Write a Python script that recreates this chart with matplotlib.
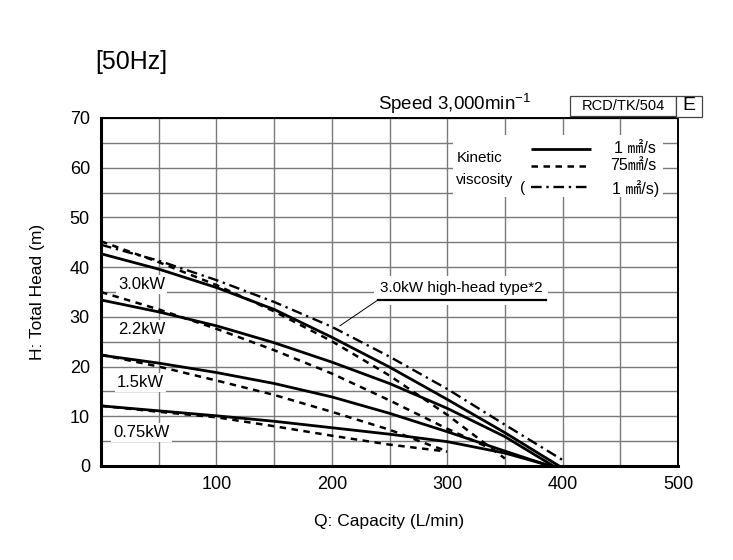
import matplotlib
matplotlib.use("Agg")
import matplotlib.pyplot as plt
from matplotlib import font_manager
from matplotlib.patches import Rectangle

# ---------------- data ----------------
q_30_solid = [0, 50, 100, 150, 200, 250, 300, 350, 397]
h_30_solid = [42.7, 39.6, 35.9, 31.5, 25.9, 19.9, 13.4, 6.7, 0.0]
q_30_dash = [0, 50, 100, 150, 200, 250, 300, 350]
h_30_dash = [45.2, 41.0, 36.4, 31.1, 25.1, 18.2, 10.3, 1.5]
q_hh_dashdot = [0, 50, 100, 150, 200, 250, 300, 350, 400]
h_hh_dashdot = [44.5, 41.3, 37.4, 33.0, 28.0, 22.0, 15.5, 8.3, 1.2]

q_22_solid = [0, 50, 100, 150, 200, 250, 300, 350, 392]
h_22_solid = [33.4, 31.0, 28.2, 24.8, 20.9, 16.6, 11.6, 5.9, 0.0]
q_22_dash = [0, 50, 100, 150, 200, 250, 300, 335]
h_22_dash = [35.0, 31.5, 27.6, 23.3, 18.6, 13.2, 7.5, 3.8]

q_15_solid = [0, 50, 100, 150, 200, 250, 300, 350, 389]
h_15_solid = [22.3, 20.7, 18.8, 16.6, 13.9, 10.6, 6.9, 3.0, 0.0]
q_15_dash = [0, 50, 100, 150, 200, 250, 285, 300]
h_15_dash = [22.4, 20.0, 17.2, 14.3, 10.9, 7.3, 4.2, 3.0]

q_075_solid = [0, 50, 100, 150, 200, 250, 300, 350, 390]
h_075_solid = [12.1, 11.1, 10.1, 9.0, 7.7, 6.4, 4.9, 2.6, 0.0]
q_075_dash = [0, 50, 100, 150, 200, 250, 300]
h_075_dash = [12.1, 10.9, 9.8, 8.0, 6.1, 4.3, 2.9]

motor_labels = ["3.0kW", "2.2kW", "1.5kW", "0.75kW"]
label_q = [35, 35, 34, 35]
label_h = [36.6, 27.4, 16.7, 6.8]

x_ticks = [100, 200, 300, 400, 500]
y_ticks = [0, 10, 20, 30, 40, 50, 60, 70]

# ---------------- fonts ----------------
def has_font(name):
    try:
        font_manager.findfont(font_manager.FontProperties(family=name),
                              fallback_to_default=False)
        return True
    except Exception:
        return False

BASE = ["Liberation Sans", "DejaVu Sans"]
NARROW_OK = has_font("Liberation Sans Narrow")
NARROW = ["Liberation Sans Narrow"] + BASE if NARROW_OK else BASE
CJK = ["Liberation Sans", "Noto Sans CJK JP", "DejaVu Sans"]
plt.rcParams["font.family"] = BASE
plt.rcParams["mathtext.fontset"] = "custom"
plt.rcParams["mathtext.rm"] = "Liberation Sans"

fig = plt.figure(figsize=(7.33, 5.60), dpi=100)
ax = fig.add_axes([101 / 733, 1 - 466 / 560, (678 - 101) / 733, (466 - 118) / 560])

ax.set_xlim(0, 500)
ax.set_ylim(0, 70)

# grid
ax.set_xticks(x_ticks)
ax.set_yticks(y_ticks)
ax.set_xticks(list(range(0, 501, 50)), minor=True)
ax.set_yticks(list(range(0, 71, 5)), minor=True)
ax.grid(True, which="both", color="#7a7a7a", lw=1.0, zorder=0)
ax.set_axisbelow(True)
ax.tick_params(which="both", length=0)
ax.tick_params(axis="x", labelsize=13, pad=7)
ax.tick_params(axis="y", labelsize=13, pad=8)

for s in ["left", "bottom"]:
    ax.spines[s].set_linewidth(2.2)
for s in ["top", "right"]:
    ax.spines[s].set_linewidth(1.4)

ax.set_xlabel("Q: Capacity (L/min)", fontsize=12.5, labelpad=15)
ax.set_ylabel("H: Total Head (m)", fontsize=12.5, labelpad=18)

# curves
solid_kw = dict(color="black", lw=2.0, zorder=3, solid_capstyle="butt",
                solid_joinstyle="round")
dash_kw = dict(color="black", lw=1.8, zorder=3, linestyle=(0, (2.6, 2.2)))
dd_kw = dict(color="black", lw=1.7, zorder=3, linestyle=(0, (4.5, 2.0, 1.0, 2.0)))

ax.plot(q_30_solid, h_30_solid, **solid_kw)
ax.plot(q_30_dash, h_30_dash, **dash_kw)
ax.plot(q_hh_dashdot, h_hh_dashdot, **dd_kw)
ax.plot(q_22_solid, h_22_solid, **solid_kw)
ax.plot(q_22_dash, h_22_dash, **dash_kw)
ax.plot(q_15_solid, h_15_solid, **solid_kw)
ax.plot(q_15_dash, h_15_dash, **dash_kw)
ax.plot(q_075_solid, h_075_solid, **solid_kw)
ax.plot(q_075_dash, h_075_dash, **dash_kw)

lab_size = 13 if NARROW_OK else 12
for lab, lq, lh in zip(motor_labels, label_q, label_h):
    ax.text(lq, lh, lab, family=NARROW, fontsize=lab_size, ha="center", va="center",
            zorder=4, bbox=dict(facecolor="white", edgecolor="none", pad=1.5))

# high-head annotation
ax.add_patch(Rectangle((237, 32.4), 150, 5.8, facecolor="white", edgecolor="none", zorder=1.5))
ax.text(312, 35.8, "3.0kW high-head type*2", family=NARROW,
        fontsize=(12.5 if NARROW_OK else 11), ha="center", va="center", zorder=4)
ax.plot([240, 386], [33.4, 33.4], color="black", lw=1.6, zorder=4)
ax.plot([240, 207], [33.4, 28.2], color="black", lw=0.7, zorder=4)

# viscosity legend
ax.add_patch(Rectangle((305, 54.1), 182, 12.5, facecolor="white", edgecolor="none", zorder=1.5))
ax.text(308, 62.0, "Kinetic", fontsize=11, ha="left", va="center", zorder=4)
ax.text(308, 57.6, "viscosity", fontsize=11, ha="left", va="center", zorder=4)
ax.plot([373, 425], [63.8, 63.8], **solid_kw)
ax.plot([373, 425], [60.4, 60.4], **dash_kw)
ax.plot([373, 425], [56.1, 56.1], **dd_kw)
ax.text(481, 63.8, "1 \u339f/s", family=CJK, fontsize=11.5, ha="right", va="center", zorder=4)
ax.text(481, 60.4, "75\u339f/s", family=CJK, fontsize=11.5, ha="right", va="center", zorder=4)
ax.text(365, 55.9, "(", fontsize=11, ha="center", va="center", zorder=4)
ax.text(484, 55.9, "1 \u339f/s)", family=CJK, fontsize=11.5, ha="right", va="center", zorder=4)

# header texts
fig.text(95 / 733, 1 - 62 / 560, "[50Hz]", fontsize=18, ha="left", va="center")
fig.text(378 / 733, 1 - 104 / 560, r"Speed 3,000min$^{\mathregular{-1}}$", fontsize=13.5,
         ha="left", va="center")
fig.patches.append(Rectangle((570 / 733, 1 - 116 / 560), 106 / 733, 20 / 560,
                             transform=fig.transFigure, facecolor="white",
                             edgecolor="#444444", lw=0.9))
fig.patches.append(Rectangle((676 / 733, 1 - 117 / 560), 26 / 733, 21 / 560,
                             transform=fig.transFigure, facecolor="white",
                             edgecolor="#444444", lw=0.9))
fig.text(623 / 733, 1 - 106 / 560, "RCD/TK/504", fontsize=10.5, ha="center", va="center")
fig.text(689 / 733, 1 - 106 / 560, "E", fontsize=14, ha="center", va="center")

fig.savefig("out.png", dpi=100)
